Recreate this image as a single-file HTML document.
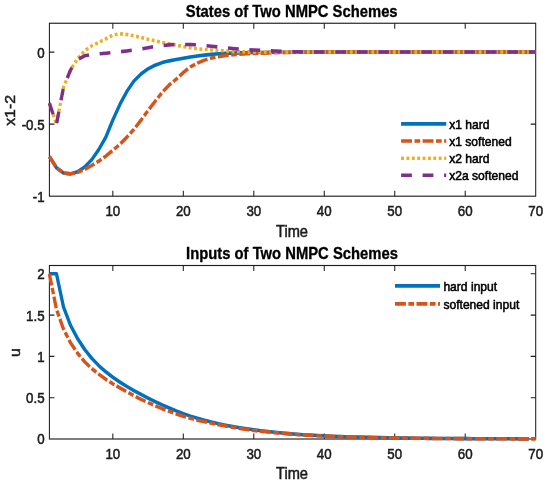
<!DOCTYPE html>
<html><head><meta charset="utf-8"><title>NMPC</title>
<style>
html,body{margin:0;padding:0;background:#fff;}
body{width:550px;height:485px;overflow:hidden;}
svg{display:block;}
text{font-family:"Liberation Sans",sans-serif;fill:#1c1c1c;stroke:#1c1c1c;stroke-width:0.5px;}
.tk text{font-size:13.33px;}
.lb{font-size:14.67px;}
.ti{font-size:14.8px;font-weight:bold;fill:#000;stroke:#000;stroke-width:0.3px;}
.lg text{font-size:12.1px;fill:#000;stroke:#000;}
</style></head><body>
<svg width="550" height="485" viewBox="0 0 550 485">
<rect width="550" height="485" fill="#fff"/>
<g transform="scale(1,1.085)">
<g stroke="#1e1e1e" stroke-width="1.05" fill="none">
<rect x="49.40" y="21.43" width="486.30" height="159.40"/>
<path d="M112.83 180.83V175.83M112.83 21.43V26.43"/>
<path d="M183.31 180.83V175.83M183.31 21.43V26.43"/>
<path d="M253.79 180.83V175.83M253.79 21.43V26.43"/>
<path d="M324.27 180.83V175.83M324.27 21.43V26.43"/>
<path d="M394.74 180.83V175.83M394.74 21.43V26.43"/>
<path d="M465.22 180.83V175.83M465.22 21.43V26.43"/>
<path d="M49.40 114.41H54.40M535.70 114.41H530.70"/>
<path d="M49.40 48.00H54.40M535.70 48.00H530.70"/>
</g>
<g class="tk" text-anchor="middle">
<text x="112.83" y="199.26">10</text>
<text x="183.31" y="199.26">20</text>
<text x="253.79" y="199.26">30</text>
<text x="324.27" y="199.26">40</text>
<text x="394.74" y="199.26">50</text>
<text x="465.22" y="199.26">60</text>
<text x="535.70" y="199.26">70</text>
</g>
<g class="tk" text-anchor="end">
<text x="44.60" y="185.90">-1</text>
<text x="44.60" y="119.48">-0.5</text>
<text x="44.60" y="53.06">0</text>
</g>
<g>
<path d="M49.40 144.30 L56.45 154.53 L63.50 159.44 L70.54 160.24 L77.59 158.25 L84.64 153.86 L91.69 147.22 L98.73 137.92 L105.78 126.50 L112.83 110.56 L119.88 96.28 L126.93 84.13 L133.97 74.63 L141.02 68.19 L148.07 63.40 L155.12 60.08 L162.17 57.69 L169.21 56.10 L176.26 54.90 L183.31 53.71 L190.36 52.62 L197.40 51.65 L204.45 50.81 L211.50 50.12 L218.55 49.59 L225.60 49.19 L232.64 48.93 L239.69 48.74 L246.74 48.59 L253.79 48.45 L260.83 48.34 L267.88 48.26 L274.93 48.20 L281.98 48.13 L289.03 48.08 L296.07 48.03 L303.12 48.01 L310.17 48.00 L317.22 48.00 L324.27 48.00 L331.31 48.00 L338.36 48.00 L345.41 48.00 L352.46 48.00 L359.50 48.00 L366.55 48.00 L373.60 48.00 L380.65 48.00 L387.70 48.00 L394.74 48.00 L401.79 48.00 L408.84 48.00 L415.89 48.00 L422.93 48.00 L429.98 48.00 L437.03 48.00 L444.08 48.00 L451.13 48.00 L458.17 48.00 L465.22 48.00 L472.27 48.00 L479.32 48.00 L486.37 48.00 L493.41 48.00 L500.46 48.00 L507.51 48.00 L514.56 48.00 L521.60 48.00 L528.65 48.00 L535.70 48.00" fill="none" stroke="#0072BD" stroke-width="3.3" stroke-linejoin="round"/>
<path d="M49.40 144.30 L56.45 154.53 L63.50 159.44 L70.54 160.24 L77.59 158.91 L84.64 156.12 L91.69 152.54 L98.73 148.55 L105.78 143.90 L112.83 138.46 L119.88 133.01 L126.93 126.37 L133.97 119.06 L141.02 110.83 L148.07 101.79 L155.12 93.42 L162.17 85.19 L169.21 78.28 L176.26 72.97 L183.31 66.86 L190.36 61.68 L197.40 58.22 L204.45 55.43 L211.50 53.44 L218.55 52.25 L225.60 51.18 L232.64 50.52 L239.69 49.99 L246.74 49.59 L253.79 49.26 L260.83 48.97 L267.88 48.72 L274.93 48.53 L281.98 48.39 L289.03 48.28 L296.07 48.19 L303.12 48.13 L310.17 48.09 L317.22 48.05 L324.27 48.02 L331.31 48.00 L338.36 48.00 L345.41 48.00 L352.46 48.00 L359.50 48.00 L366.55 48.00 L373.60 48.00 L380.65 48.00 L387.70 48.00 L394.74 48.00 L401.79 48.00 L408.84 48.00 L415.89 48.00 L422.93 48.00 L429.98 48.00 L437.03 48.00 L444.08 48.00 L451.13 48.00 L458.17 48.00 L465.22 48.00 L472.27 48.00 L479.32 48.00 L486.37 48.00 L493.41 48.00 L500.46 48.00 L507.51 48.00 L514.56 48.00 L521.60 48.00 L528.65 48.00 L535.70 48.00" fill="none" stroke="#D95319" stroke-width="3.3" stroke-linejoin="round" stroke-dasharray="10.9 2.5 5.7 2.4"/>
<path d="M49.40 95.15 L56.45 114.41 L63.50 80.54 L70.54 64.47 L77.59 53.97 L84.64 46.93 L91.69 42.28 L98.73 39.10 L105.78 35.77 L112.83 32.32 L119.88 31.18 L126.93 31.79 L133.97 33.02 L141.02 34.51 L148.07 36.17 L155.12 37.63 L162.17 39.10 L169.21 40.42 L176.26 41.62 L183.31 42.95 L190.36 44.06 L197.40 44.94 L204.45 45.53 L211.50 46.03 L218.55 46.53 L225.60 46.97 L232.64 47.36 L239.69 47.64 L246.74 47.78 L253.79 47.88 L260.83 47.93 L267.88 47.95 L274.93 47.97 L281.98 47.98 L289.03 47.99 L296.07 48.00 L303.12 48.00 L310.17 48.00 L317.22 48.00 L324.27 48.00 L331.31 48.00 L338.36 48.00 L345.41 48.00 L352.46 48.00 L359.50 48.00 L366.55 48.00 L373.60 48.00 L380.65 48.00 L387.70 48.00 L394.74 48.00 L401.79 48.00 L408.84 48.00 L415.89 48.00 L422.93 48.00 L429.98 48.00 L437.03 48.00 L444.08 48.00 L451.13 48.00 L458.17 48.00 L465.22 48.00 L472.27 48.00 L479.32 48.00 L486.37 48.00 L493.41 48.00 L500.46 48.00 L507.51 48.00 L514.56 48.00 L521.60 48.00 L528.65 48.00 L535.70 48.00" fill="none" stroke="#EDB120" stroke-width="3.3" stroke-linejoin="round" stroke-dasharray="2.9 2.475"/>
<path d="M49.40 95.15 L56.45 114.41 L63.50 80.54 L70.54 64.47 L77.59 54.90 L84.64 51.45 L91.69 50.36 L98.73 49.66 L105.78 49.01 L112.83 48.39 L119.88 47.70 L126.93 46.93 L133.97 46.05 L141.02 45.07 L148.07 43.91 L155.12 42.81 L162.17 41.99 L169.21 41.35 L176.26 40.96 L183.31 40.96 L190.36 40.96 L197.40 41.34 L204.45 42.02 L211.50 42.66 L218.55 43.35 L225.60 44.02 L232.64 44.67 L239.69 45.36 L246.74 45.87 L253.79 46.07 L260.83 46.37 L267.88 46.74 L274.93 47.07 L281.98 47.33 L289.03 47.56 L296.07 47.73 L303.12 47.85 L310.17 47.95 L317.22 48.00 L324.27 48.00 L331.31 48.00 L338.36 48.00 L345.41 48.00 L352.46 48.00 L359.50 48.00 L366.55 48.00 L373.60 48.00 L380.65 48.00 L387.70 48.00 L394.74 48.00 L401.79 48.00 L408.84 48.00 L415.89 48.00 L422.93 48.00 L429.98 48.00 L437.03 48.00 L444.08 48.00 L451.13 48.00 L458.17 48.00 L465.22 48.00 L472.27 48.00 L479.32 48.00 L486.37 48.00 L493.41 48.00 L500.46 48.00 L507.51 48.00 L514.56 48.00 L521.60 48.00 L528.65 48.00 L535.70 48.00" fill="none" stroke="#7E2F8E" stroke-width="3.3" stroke-linejoin="round" stroke-dasharray="10.8 10.7"/>
</g>
<text class="ti" x="291.7" y="15.39" text-anchor="middle">States of Two NMPC Schemes</text>
<text class="lb" x="292" y="218.71" text-anchor="middle">Time</text>
<text class="lb" transform="translate(15.10,101.75) rotate(-90)" text-anchor="middle">x1-2</text>
<g fill="none" stroke-width="3.3">
<path d="M401.1 114.19H446.2" stroke="#0072BD"/>
<path d="M401.1 129.95H446.2" stroke="#D95319" stroke-dasharray="10.9 2.5 5.7 2.4"/>
<path d="M401.1 145.81H446.2" stroke="#EDB120" stroke-dasharray="2.9 2.475"/>
<path d="M401.1 161.57H446.2" stroke="#7E2F8E" stroke-dasharray="10.8 10.7"/>
</g>
<g class="lg">
<text x="449.2" y="118.89">x1 hard</text>
<text x="449.2" y="134.65">x1 softened</text>
<text x="449.2" y="150.51">x2 hard</text>
<text x="449.2" y="166.27">x2a softened</text>
</g>
<g stroke="#1e1e1e" stroke-width="1.05" fill="none">
<rect x="49.40" y="244.70" width="486.30" height="159.91"/>
<path d="M112.83 404.61V399.61M112.83 244.70V249.70"/>
<path d="M183.31 404.61V399.61M183.31 244.70V249.70"/>
<path d="M253.79 404.61V399.61M253.79 244.70V249.70"/>
<path d="M324.27 404.61V399.61M324.27 244.70V249.70"/>
<path d="M394.74 404.61V399.61M394.74 244.70V249.70"/>
<path d="M465.22 404.61V399.61M465.22 244.70V249.70"/>
<path d="M49.40 366.54H54.40M535.70 366.54H530.70"/>
<path d="M49.40 328.46H54.40M535.70 328.46H530.70"/>
<path d="M49.40 290.39H54.40M535.70 290.39H530.70"/>
<path d="M49.40 252.32H54.40M535.70 252.32H530.70"/>
</g>
<g class="tk" text-anchor="middle">
<text x="112.83" y="423.04">10</text>
<text x="183.31" y="423.04">20</text>
<text x="253.79" y="423.04">30</text>
<text x="324.27" y="423.04">40</text>
<text x="394.74" y="423.04">50</text>
<text x="465.22" y="423.04">60</text>
<text x="535.70" y="423.04">70</text>
</g>
<g class="tk" text-anchor="end">
<text x="44.60" y="409.68">0</text>
<text x="44.60" y="371.60">0.5</text>
<text x="44.60" y="333.53">1</text>
<text x="44.60" y="295.46">1.5</text>
<text x="44.60" y="257.38">2</text>
</g>
<g>
<path d="M49.40 252.32 L56.45 252.32 L63.50 282.93 L70.54 299.91 L77.59 312.09 L84.64 321.99 L91.69 330.21 L98.73 336.91 L105.78 342.70 L112.83 347.73 L119.88 352.18 L126.93 356.26 L133.97 360.04 L141.02 363.56 L148.07 366.92 L155.12 370.14 L162.17 373.19 L169.21 376.05 L176.26 378.75 L183.31 381.25 L190.36 383.52 L197.40 385.54 L204.45 387.37 L211.50 389.03 L218.55 390.52 L225.60 391.86 L232.64 393.06 L239.69 394.15 L246.74 395.16 L253.79 396.08 L260.83 396.94 L267.88 397.73 L274.93 398.45 L281.98 399.09 L289.03 399.66 L296.07 400.17 L303.12 400.62 L310.17 401.03 L317.22 401.39 L324.27 401.71 L331.31 402.00 L338.36 402.26 L345.41 402.49 L352.46 402.70 L359.50 402.88 L366.55 403.05 L373.60 403.20 L380.65 403.34 L387.70 403.47 L394.74 403.58 L401.79 403.68 L408.84 403.78 L415.89 403.87 L422.93 403.94 L429.98 404.01 L437.03 404.07 L444.08 404.13 L451.13 404.18 L458.17 404.23 L465.22 404.27 L472.27 404.30 L479.32 404.33 L486.37 404.36 L493.41 404.39 L500.46 404.41 L507.51 404.43 L514.56 404.45 L521.60 404.47 L528.65 404.48" fill="none" stroke="#0072BD" stroke-width="3.3" stroke-linejoin="round"/>
<path d="M49.40 252.32 L56.45 285.06 L63.50 303.33 L70.54 315.90 L77.59 325.57 L84.64 333.41 L91.69 339.66 L98.73 344.83 L105.78 349.63 L112.83 353.74 L119.88 357.53 L126.93 361.13 L133.97 364.64 L141.02 367.99 L148.07 371.10 L155.12 373.99 L162.17 376.68 L169.21 379.18 L176.26 381.51 L183.31 383.66 L190.36 385.57 L197.40 387.23 L204.45 388.71 L211.50 390.07 L218.55 391.36 L225.60 392.60 L232.64 393.77 L239.69 394.85 L246.74 395.82 L253.79 396.69 L260.83 397.46 L267.88 398.16 L274.93 398.79 L281.98 399.36 L289.03 399.89 L296.07 400.37 L303.12 400.81 L310.17 401.20 L317.22 401.56 L324.27 401.87 L331.31 402.14 L338.36 402.38 L345.41 402.59 L352.46 402.79 L359.50 402.96 L366.55 403.12 L373.60 403.26 L380.65 403.39 L387.70 403.51 L394.74 403.62 L401.79 403.72 L408.84 403.81 L415.89 403.89 L422.93 403.97 L429.98 404.04 L437.03 404.10 L444.08 404.15 L451.13 404.20 L458.17 404.24 L465.22 404.28 L472.27 404.32 L479.32 404.35 L486.37 404.37 L493.41 404.40 L500.46 404.42 L507.51 404.44 L514.56 404.46 L521.60 404.47 L528.65 404.49 L535.70 404.50" fill="none" stroke="#D95319" stroke-width="3.3" stroke-linejoin="round" stroke-dasharray="10.9 2.5 5.7 2.4"/>
</g>
<text class="ti" x="292.0" y="238.43" text-anchor="middle">Inputs of Two NMPC Schemes</text>
<text class="lb" x="292" y="441.75" text-anchor="middle">Time</text>
<text class="lb" transform="translate(19.50,324.98) rotate(-90)" text-anchor="middle">u</text>
<g fill="none" stroke-width="3.3">
<path d="M395.0 263.50H440.0" stroke="#0072BD"/>
<path d="M395.0 280.09H440.0" stroke="#D95319" stroke-dasharray="10.9 2.5 5.7 2.4"/>
</g>
<g class="lg">
<text x="443.4" y="267.93">hard input</text>
<text x="443.4" y="284.52">softened input</text>
</g>
</g></svg></body></html>
